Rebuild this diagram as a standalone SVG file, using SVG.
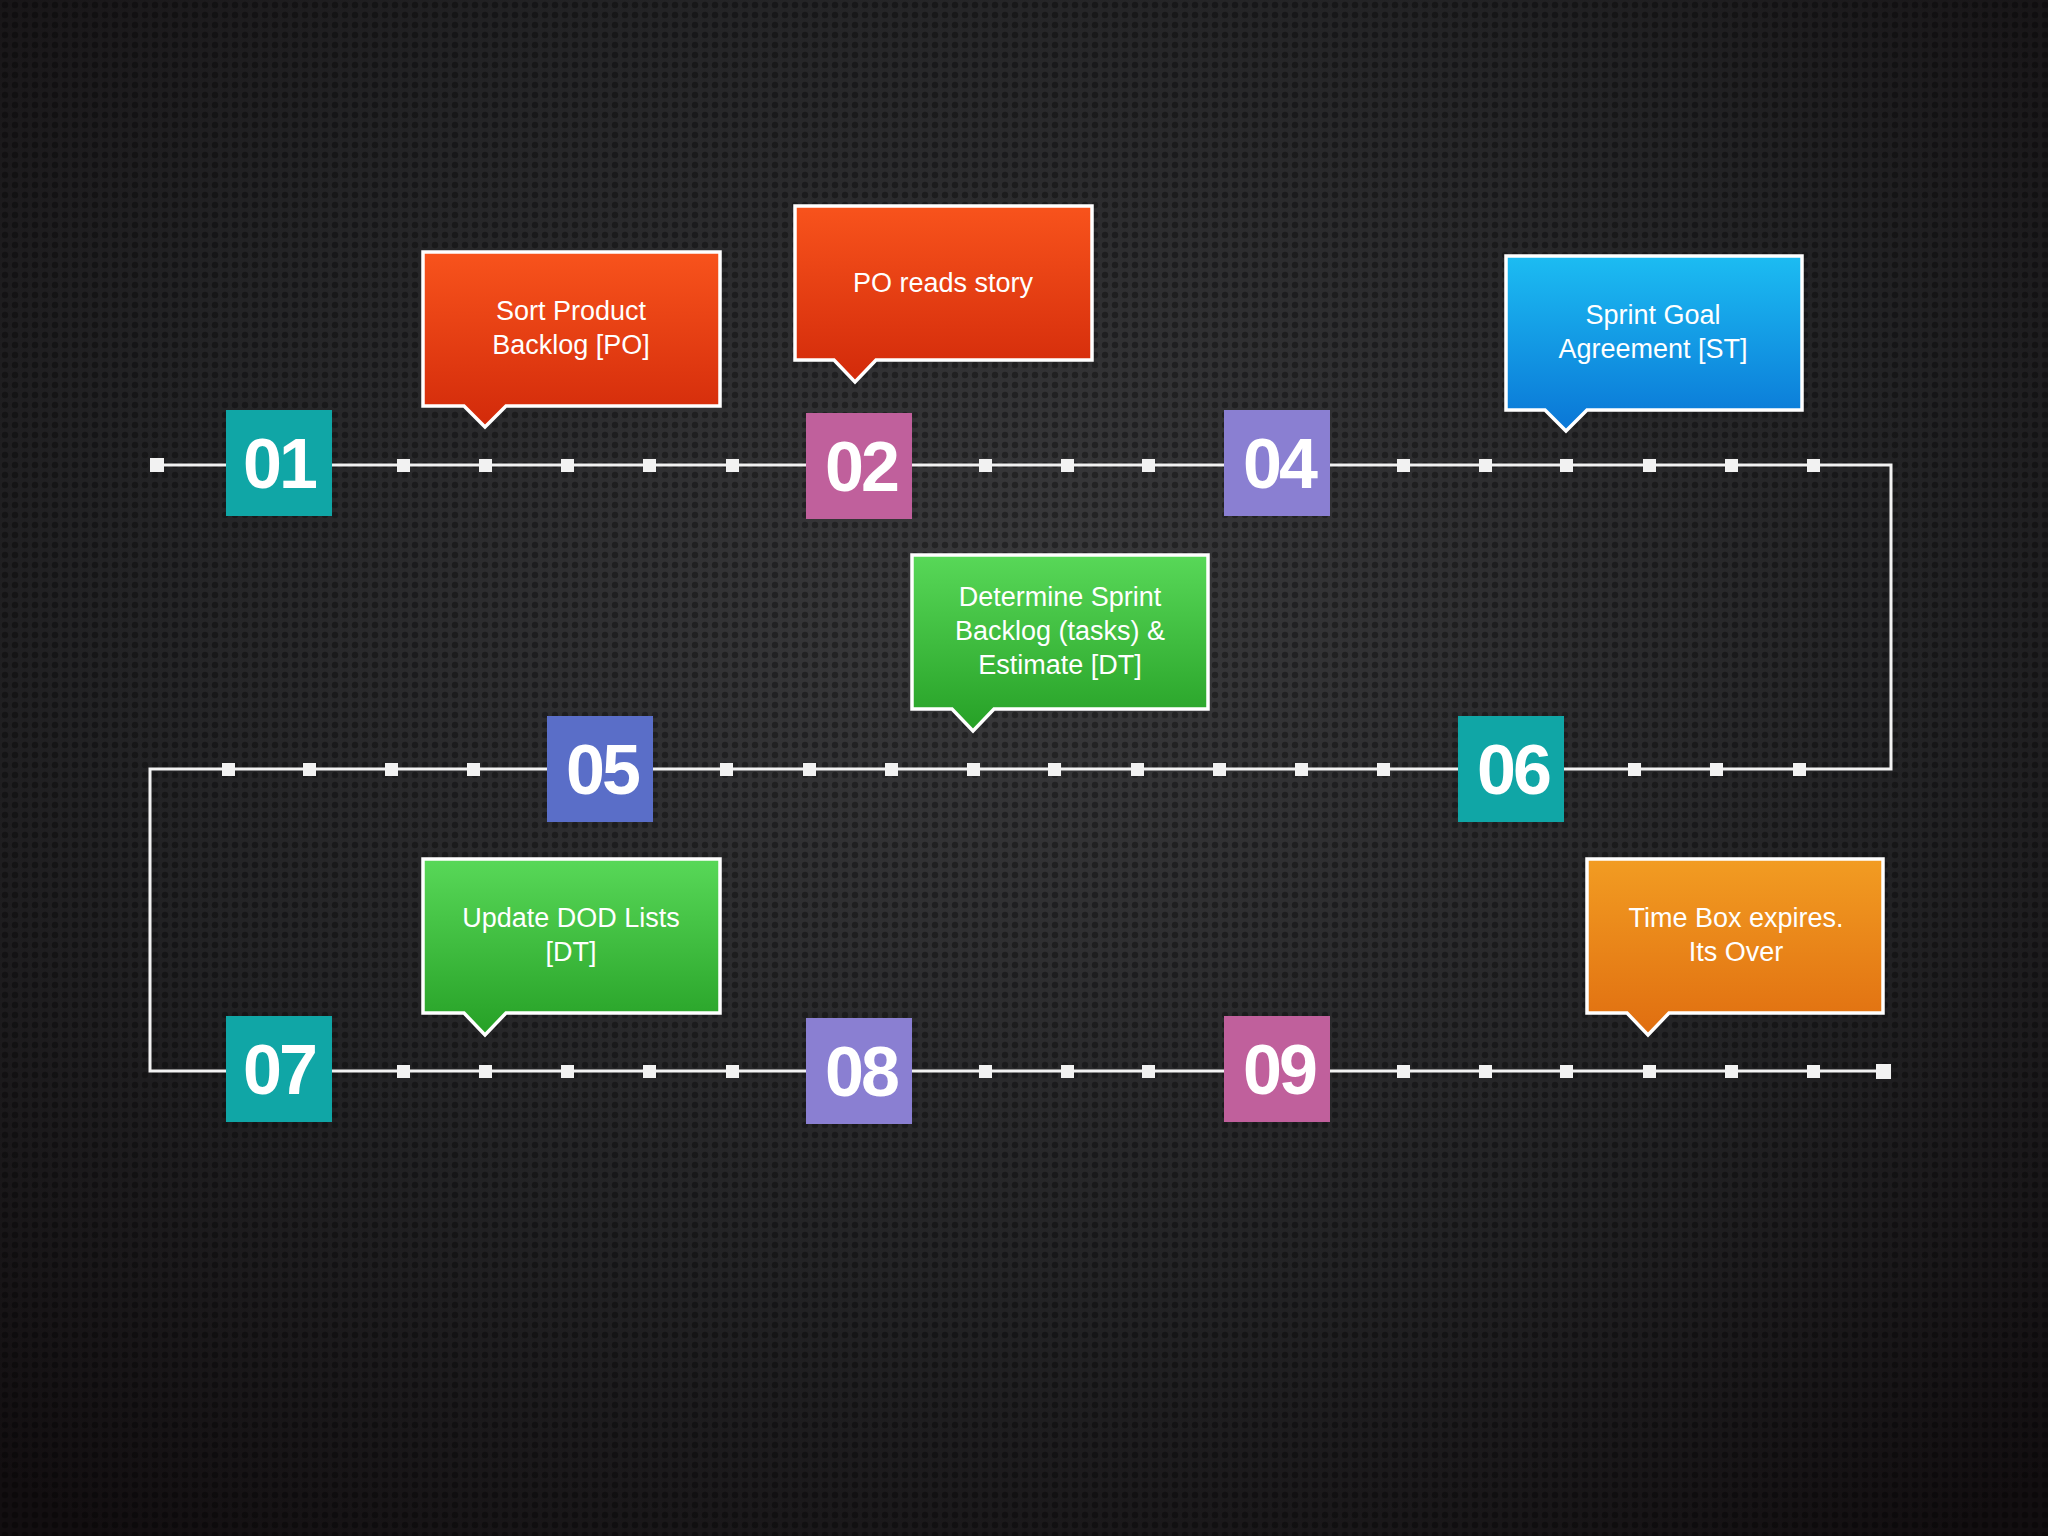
<svg xmlns="http://www.w3.org/2000/svg" width="2048" height="1536" viewBox="0 0 2048 1536">
<defs>
<radialGradient id="bg" cx="50%" cy="40%" r="75%"><stop offset="0" stop-color="#3a3a3c"/><stop offset="0.6" stop-color="#222224"/><stop offset="1" stop-color="#120e10"/></radialGradient>
<pattern id="hex" width="10" height="10" patternUnits="userSpaceOnUse"><circle cx="5" cy="5" r="3.2" fill="#000" opacity="0.35"/></pattern>
<linearGradient id="red" x1="0" y1="0" x2="0" y2="1"><stop offset="0" stop-color="#f8531c"/><stop offset="1" stop-color="#d22a0a"/></linearGradient>
<linearGradient id="blue" x1="0" y1="0" x2="0" y2="1"><stop offset="0" stop-color="#1cbcf2"/><stop offset="1" stop-color="#0a76d6"/></linearGradient>
<linearGradient id="green" x1="0" y1="0" x2="0" y2="1"><stop offset="0" stop-color="#58d858"/><stop offset="1" stop-color="#26a026"/></linearGradient>
<linearGradient id="orange" x1="0" y1="0" x2="0" y2="1"><stop offset="0" stop-color="#f29c22"/><stop offset="1" stop-color="#e06e10"/></linearGradient>
</defs>
<style>
.ln{fill:none;stroke:#f2f2f2;stroke-width:3}
.dot{fill:#f2f2f2}
.co{stroke:#ffffff;stroke-width:3.5}
.ct{font-family:"Liberation Sans",Arial,sans-serif;font-size:27px;fill:#fff;text-anchor:middle}
.num{font-family:"Liberation Sans",Arial,sans-serif;font-weight:bold;font-size:70px;fill:#fff;text-anchor:middle;letter-spacing:-3px}
</style>
<rect width="2048" height="1536" fill="url(#bg)"/>
<rect width="2048" height="1536" fill="url(#hex)"/>
<g id="connectors">
<polyline class="ln" points="157,465 1891,465 1891,769 150,769 150,1071 1883,1071"/>
<g class="dot">
<rect x="150" y="458" width="14" height="14"/>
<rect x="397" y="459" width="13" height="13"/><rect x="479" y="459" width="13" height="13"/><rect x="561" y="459" width="13" height="13"/><rect x="643" y="459" width="13" height="13"/><rect x="726" y="459" width="13" height="13"/>
<rect x="979" y="459" width="13" height="13"/><rect x="1061" y="459" width="13" height="13"/><rect x="1142" y="459" width="13" height="13"/>
<rect x="1397" y="459" width="13" height="13"/><rect x="1479" y="459" width="13" height="13"/><rect x="1560" y="459" width="13" height="13"/><rect x="1643" y="459" width="13" height="13"/><rect x="1725" y="459" width="13" height="13"/><rect x="1807" y="459" width="13" height="13"/>
<rect x="222" y="763" width="13" height="13"/><rect x="303" y="763" width="13" height="13"/><rect x="385" y="763" width="13" height="13"/><rect x="467" y="763" width="13" height="13"/>
<rect x="720" y="763" width="13" height="13"/><rect x="803" y="763" width="13" height="13"/><rect x="885" y="763" width="13" height="13"/><rect x="967" y="763" width="13" height="13"/><rect x="1048" y="763" width="13" height="13"/><rect x="1131" y="763" width="13" height="13"/><rect x="1213" y="763" width="13" height="13"/><rect x="1295" y="763" width="13" height="13"/><rect x="1377" y="763" width="13" height="13"/>
<rect x="1628" y="763" width="13" height="13"/><rect x="1710" y="763" width="13" height="13"/><rect x="1793" y="763" width="13" height="13"/>
<rect x="397" y="1065" width="13" height="13"/><rect x="479" y="1065" width="13" height="13"/><rect x="561" y="1065" width="13" height="13"/><rect x="643" y="1065" width="13" height="13"/><rect x="726" y="1065" width="13" height="13"/>
<rect x="979" y="1065" width="13" height="13"/><rect x="1061" y="1065" width="13" height="13"/><rect x="1142" y="1065" width="13" height="13"/>
<rect x="1397" y="1065" width="13" height="13"/><rect x="1479" y="1065" width="13" height="13"/><rect x="1560" y="1065" width="13" height="13"/><rect x="1643" y="1065" width="13" height="13"/><rect x="1725" y="1065" width="13" height="13"/><rect x="1807" y="1065" width="13" height="13"/>
<rect x="1876" y="1064" width="15" height="15"/>
</g>
</g>
<g id="n01"><rect x="226" y="410" width="106" height="106" fill="#10a6a6"/><text class="num" x="279" y="488">01</text></g>
<g id="n02"><rect x="806" y="413" width="106" height="106" fill="#c0609c"/><text class="num" x="861" y="491">02</text></g>
<g id="n04"><rect x="1224" y="410" width="106" height="106" fill="#8a7fd2"/><text class="num" x="1279" y="488">04</text></g>
<g id="n05"><rect x="547" y="716" width="106" height="106" fill="#5a6ec8"/><text class="num" x="602" y="794">05</text></g>
<g id="n06"><rect x="1458" y="716" width="106" height="106" fill="#10a6a6"/><text class="num" x="1513" y="794">06</text></g>
<g id="n07"><rect x="226" y="1016" width="106" height="106" fill="#10a6a6"/><text class="num" x="279" y="1094">07</text></g>
<g id="n08"><rect x="806" y="1018" width="106" height="106" fill="#8a7fd2"/><text class="num" x="861" y="1096">08</text></g>
<g id="n09"><rect x="1224" y="1016" width="106" height="106" fill="#c0609c"/><text class="num" x="1279" y="1094">09</text></g>
<g id="c-sort"><path class="co" fill="url(#red)" d="M423,252 H720 V406 H506 L485,427 L464,406 H423 Z"/><text class="ct" x="571" y="320">Sort Product</text><text class="ct" x="571" y="354">Backlog [PO]</text></g>
<g id="c-po"><path class="co" fill="url(#red)" d="M795,206 H1092 V360 H876 L855,382 L834,360 H795 Z"/><text class="ct" x="943" y="292">PO reads story</text></g>
<g id="c-goal"><path class="co" fill="url(#blue)" d="M1506,256 H1802 V410 H1587 L1566,431 L1545,410 H1506 Z"/><text class="ct" x="1653" y="324">Sprint Goal</text><text class="ct" x="1653" y="358">Agreement [ST]</text></g>
<g id="c-det"><path class="co" fill="url(#green)" d="M912,555 H1208 V709 H994 L973,731 L952,709 H912 Z"/><text class="ct" x="1060" y="606">Determine Sprint</text><text class="ct" x="1060" y="640">Backlog (tasks) &amp;</text><text class="ct" x="1060" y="674">Estimate [DT]</text></g>
<g id="c-dod"><path class="co" fill="url(#green)" d="M423,859 H720 V1013 H506 L485,1035 L464,1013 H423 Z"/><text class="ct" x="571" y="927">Update DOD Lists</text><text class="ct" x="571" y="961">[DT]</text></g>
<g id="c-time"><path class="co" fill="url(#orange)" d="M1587,859 H1883 V1013 H1669 L1648,1035 L1627,1013 H1587 Z"/><text class="ct" x="1736" y="927">Time Box expires.</text><text class="ct" x="1736" y="961">Its Over</text></g>
</svg>
